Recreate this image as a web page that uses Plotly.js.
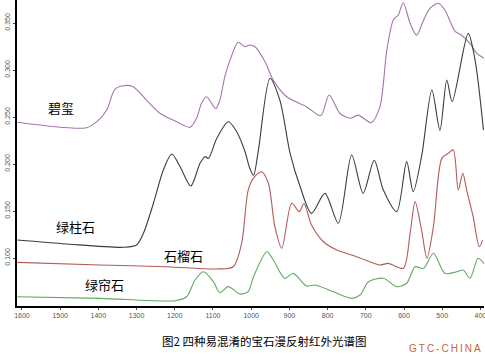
<!DOCTYPE html>
<html>
<head>
<meta charset="utf-8">
<script src="https://cdn.plot.ly/plotly-3.0.1.min.js"></script>
<style>html,body{margin:0;padding:0;background:#fff;}#chart{width:485px;height:357px;}</style>
</head>
<body>
<div id="chart"></div>
<script>
// 碧玺 (tourmaline)
const tourmX = [1612, 1431, 1404, 1378, 1357, 1335, 1309, 1274, 1239, 1195, 1160, 1143, 1130, 1117, 1093, 1082, 1069, 1055, 1034, 1016, 1003, 990, 964, 942, 907, 855, 818, 796, 768, 741, 720, 686, 663, 645, 628, 615, 602, 584, 567, 549, 532, 510, 493, 466, 449, 427, 410, 388];
const tourmY = [0.2444, 0.2386, 0.245, 0.2574, 0.2795, 0.2833, 0.2823, 0.268, 0.254, 0.245, 0.239, 0.2486, 0.2646, 0.2716, 0.259, 0.268, 0.293, 0.311, 0.3295, 0.3248, 0.3266, 0.3248, 0.309, 0.289, 0.2716, 0.261, 0.2514, 0.2734, 0.254, 0.2486, 0.252, 0.244, 0.261, 0.321, 0.3532, 0.3585, 0.3716, 0.3497, 0.337, 0.353, 0.3656, 0.371, 0.3638, 0.341, 0.337, 0.328, 0.318, 0.312];

// 绿柱石 (beryl)
const berylX = [1612, 1483, 1335, 1300, 1282, 1256, 1230, 1208, 1186, 1158, 1134, 1121, 1112, 1090, 1060, 1038, 1016, 1005, 994, 981, 951, 925, 898, 872, 842, 807, 772, 737, 707, 678, 654, 619, 593, 576, 554, 527, 506, 488, 474, 432, 414, 392];
const berylY = [0.1191, 0.1149, 0.1114, 0.1138, 0.1263, 0.158, 0.1936, 0.2106, 0.197, 0.1766, 0.2007, 0.2078, 0.206, 0.2273, 0.245, 0.2344, 0.213, 0.197, 0.188, 0.215, 0.2909, 0.268, 0.211, 0.176, 0.1475, 0.1688, 0.137, 0.2096, 0.1688, 0.204, 0.1723, 0.1493, 0.2025, 0.1705, 0.208, 0.2787, 0.236, 0.2894, 0.2663, 0.339, 0.3106, 0.236];

// 石榴石 (garnet)
const garnetX = [1612, 1396, 1221, 1090, 1047, 1025, 1008, 994, 973, 955, 938, 920, 894, 874, 862, 842, 811, 776, 724, 663, 641, 602, 584, 571, 554, 540, 523, 501, 484, 471, 458, 446, 436, 419, 403, 394];
const garnetY = [0.0954, 0.0926, 0.0907, 0.0883, 0.0907, 0.1156, 0.172, 0.185, 0.1918, 0.1795, 0.1333, 0.1103, 0.1582, 0.1493, 0.158, 0.135, 0.1173, 0.1085, 0.1014, 0.0926, 0.0943, 0.089, 0.1263, 0.16, 0.1298, 0.0997, 0.1333, 0.206, 0.2114, 0.215, 0.1723, 0.19, 0.1723, 0.144, 0.112, 0.119];

// 绿帘石 (epidote)
const epidX = [1612, 1396, 1199, 1169, 1147, 1125, 1099, 1082, 1060, 1029, 1008, 994, 959, 942, 912, 890, 855, 833, 785, 737, 715, 693, 654, 619, 593, 571, 549, 523, 493, 462, 445, 427, 406, 388];
const epidY = [0.0588, 0.0571, 0.0546, 0.0588, 0.0766, 0.0854, 0.0748, 0.0631, 0.0695, 0.0617, 0.0641, 0.0801, 0.1067, 0.0979, 0.0784, 0.0837, 0.0702, 0.0713, 0.0642, 0.0571, 0.0606, 0.0748, 0.0784, 0.0695, 0.0731, 0.0907, 0.089, 0.105, 0.0837, 0.0854, 0.0872, 0.0784, 0.0997, 0.0926];

const xTicks = [1600, 1500, 1400, 1300, 1200, 1100, 1000, 900, 800, 700, 600, 500, 400];
const yTicks = [0.100, 0.150, 0.200, 0.250, 0.300, 0.350];
const seriesNames = ['碧玺', '绿柱石', '石榴石', '绿帘石'];
const captionText = '图2 四种易混淆的宝石漫反射红外光谱图';
const watermark = 'G\u2009T\u2009C\u2009-\u2009C\u2009H\u2009I\u2009N\u2009A';

const mk = (x, y, c) => ({x: x, y: y, type: 'scatter', mode: 'lines',
  line: {color: c, width: 1.1, shape: 'spline', smoothing: 0.8}, hoverinfo: 'skip'});

const data = [
  mk(tourmX, tourmY, '#a474ac'),
  mk(berylX, berylY, '#3c3c3c'),
  mk(garnetX, garnetY, '#b45a5a'),
  mk(epidX, epidY, '#5eaa5e')
];

const cjk = '"Noto Sans CJK SC", sans-serif';
const lab = (t, x, y) => ({text: t, x: x, y: y, xref: 'x', yref: 'y', showarrow: false,
  font: {family: cjk, size: 13, color: '#000'}});

const layout = {
  width: 485, height: 357,
  margin: {l: 17, r: 1, t: 0, b: 51},
  paper_bgcolor: '#fff', plot_bgcolor: '#fff',
  showlegend: false,
  xaxis: {range: [1613, 390.6], tickvals: xTicks, ticktext: xTicks.map(String),
    showgrid: false, zeroline: false, showline: true, linecolor: '#000', linewidth: 2,
    ticks: 'outside', ticklen: 2, tickcolor: '#444', tickwidth: 1, ticklabeloverflow: 'allow',
    tickfont: {family: 'Liberation Sans, Arial, sans-serif', size: 7, color: '#555'}},
  yaxis: {range: [0.04894, 0.37447], tickvals: yTicks, ticktext: yTicks.map(v => v.toFixed(3)),
    tickangle: -90, showgrid: false, zeroline: false, showline: true, linecolor: '#000', linewidth: 2,
    ticks: 'outside', ticklen: 2, tickcolor: '#444', tickwidth: 1, ticklabeloverflow: 'allow',
    tickfont: {family: 'Liberation Sans, Arial, sans-serif', size: 7, color: '#555'}},
  annotations: [
    lab(seriesNames[0], 1498, 0.2596),
    lab(seriesNames[1], 1459, 0.134),
    lab(seriesNames[2], 1176, 0.1032),
    lab(seriesNames[3], 1383, 0.0713),
    {text: captionText, xref: 'paper', yref: 'paper', x: 0.529, y: -0.114, showarrow: false,
      xanchor: 'center', yanchor: 'middle', font: {family: cjk, size: 11.5, color: '#000'}},
    {text: watermark, xref: 'paper', yref: 'paper', x: 0.998, y: -0.1405, showarrow: false,
      xanchor: 'right', yanchor: 'middle', font: {family: 'Liberation Sans, Arial, sans-serif', size: 10, color: '#c8643c'}}
  ]
};

Plotly.newPlot('chart', data, layout, {displayModeBar: false, staticPlot: true});
</script>
</body>
</html>
